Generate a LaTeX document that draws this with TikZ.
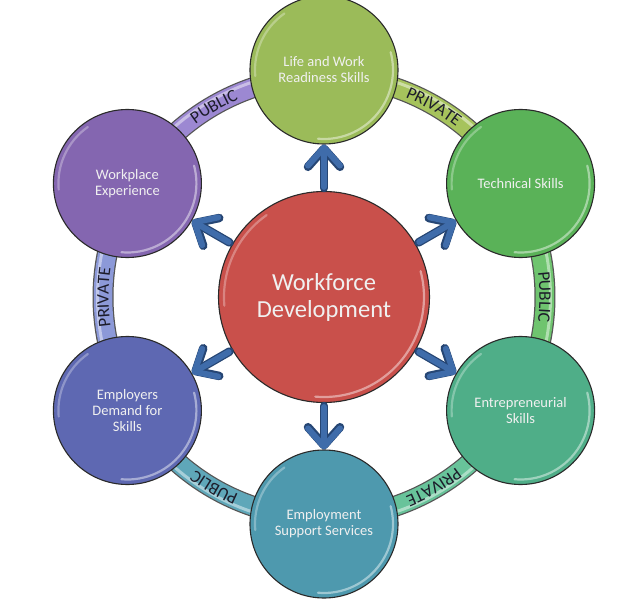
\documentclass[tikz,border=0pt]{standalone}
\usepackage{fontspec}
\setmainfont{Carlito}
\usetikzlibrary{arrows.meta,decorations.text}
\definecolor{lifecol}{HTML}{9BBB59}
\definecolor{techcol}{HTML}{5AB258}
\definecolor{entcol}{HTML}{4FAE88}
\definecolor{supcol}{HTML}{4E99AE}
\definecolor{demcol}{HTML}{5E68B2}
\definecolor{expcol}{HTML}{8466B0}
\definecolor{wfcol}{HTML}{C9504B}
\definecolor{arrcol}{HTML}{3F6CAA}
\definecolor{arredge}{HTML}{264674}
\definecolor{edgecol}{HTML}{2A2A2A}
\definecolor{bandA}{HTML}{9C88D2}
\definecolor{bandB}{HTML}{A6C35C}
\definecolor{bandC}{HTML}{6FC46F}
\definecolor{bandD}{HTML}{68C39A}
\definecolor{bandE}{HTML}{5FA7B9}
\definecolor{bandF}{HTML}{8C99D8}
\definecolor{bandtext}{HTML}{1C1C2A}
\tikzset{
  outer/.style={circle, minimum size=148pt, draw=edgecol, line width=1.1pt,
    text=white!94!black, align=center, font=\fontsize{14.5}{16}\selectfont, inner sep=2pt},
  centre/.style={circle, minimum size=211pt, draw=edgecol, line width=1.1pt, fill=wfcol,
    text=white!94!black, align=center, font=\fontsize{24.5}{27}\selectfont},
  bandedge/.style={line width=21pt, draw=edgecol!80},
  bandfill/.style={line width=18.5pt},
  bandtxt/.style={decorate, decoration={text along path, text align=center, raise=-5.6pt,
    text={|\fontsize{17.5}{17.5}\selectfont\color{bandtext}|#1}}},
  arrback/.style={draw=arredge, line width=8.5pt, line cap=round,
    -{Straight Barb[length=18pt, width=32pt, round]}},
  arrfront/.style={draw=arrcol, line width=6pt, line cap=round,
    -{Straight Barb[length=18pt, width=32pt, round]}},
  gloss/.style={draw=white, opacity=0.45, line width=2.2pt, line cap=round}
}
\begin{document}
\begin{tikzpicture}[x=1pt,y=1pt]
\useasboundingbox (-324,-314) rectangle (316,297);
\fill[white] (-324,-314) rectangle (316,297);
% ring bands
\foreach \a/\b/\col in {150/90/bandA, 90/30/bandB, 30/-30/bandC, -30/-90/bandD, -90/-150/bandE, -150/-210/bandF}{
  \draw[bandedge] (\a:221) arc[start angle=\a, end angle=\b, radius=221];
  \draw[bandfill, draw=\col] (\a:221) arc[start angle=\a, end angle=\b, radius=221];
  \draw[line width=3pt, draw=\col!55!white] (\a:226.5) arc[start angle=\a, end angle=\b, radius=226.5];
}
% band labels
\path[bandtxt=PUBLIC] (150:221) arc[start angle=150, end angle=90, radius=221];
\path[bandtxt=PRIVATE] (90:221) arc[start angle=90, end angle=30, radius=221];
\path[bandtxt=PUBLIC] (30:221) arc[start angle=30, end angle=-30, radius=221];
\path[bandtxt=PRIVATE] (-30:221) arc[start angle=-30, end angle=-90, radius=221];
\path[bandtxt=PUBLIC] (-90:221) arc[start angle=-90, end angle=-150, radius=221];
\path[bandtxt=PRIVATE] (-150:221) arc[start angle=-150, end angle=-210, radius=221];
% circles
\node[outer, fill=lifecol] (life) at (90:227) {Life and Work\\Readiness Skills};
\node[outer, fill=techcol] (tech) at (30:227) {Technical Skills};
\node[outer, fill=entcol] (ent) at (-30:227) {Entrepreneurial\\Skills};
\node[outer, fill=supcol] (sup) at (-90:227) {Employment\\Support Services};
\node[outer, fill=demcol] (dem) at (-150:227) {Employers\\Demand for\\Skills};
\node[outer, fill=expcol] (exp) at (150:227) {Workplace\\Experience};
\node[centre] (wf) at (0,0) {Workforce\\Development};
% gloss
\foreach \n/\r in {life/69, tech/69, ent/69, sup/69, dem/69, exp/69, wf/100}{
  \draw[gloss] ([shift={(-95:\r)}]\n.center) arc[start angle=-95, end angle=15, radius=\r];
  \draw[gloss, opacity=0.3] ([shift={(125:\r)}]\n.center) arc[start angle=125, end angle=185, radius=\r];
}
% arrows
\foreach \n in {life, tech, ent, sup, dem, exp}{
  \draw[arrback, shorten <=3pt] (wf) -- (\n);
  \draw[arrfront, shorten <=4pt] (wf) -- (\n);
}
\end{tikzpicture}
\end{document}
